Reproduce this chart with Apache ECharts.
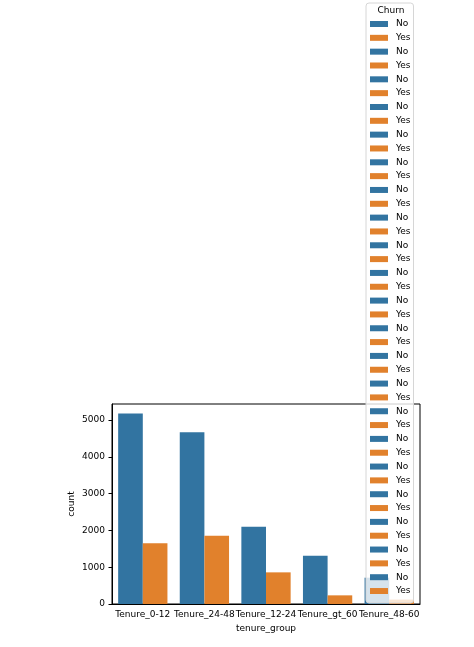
<!DOCTYPE html>
<html>
<head>
<meta charset="utf-8">
<script src="https://cdn.jsdelivr.net/npm/echarts@6/dist/echarts.min.js"></script>
<style>
  html, body { margin: 0; padding: 0; background: #fff; }
  #chart { width: 474px; height: 647px; }
</style>
</head>
<body>
<div id="chart"></div>
<script>
// categories and counts
var tenureGroups = ['Tenure_0-12', 'Tenure_24-48', 'Tenure_12-24', 'Tenure_gt_60', 'Tenure_48-60'];
var churnNo = [5180, 4665, 2100, 1310, 715];
var churnYes = [1650, 1855, 860, 235, 120];
var yTicks = [0, 1000, 2000, 3000, 4000, 5000];
var legendRepeats = 21;

var blue = '#3274a1';
var orange = '#e1812c';
var fontName = 'DejaVu Sans';
var fontSize = 9;

var chart = echarts.init(document.getElementById('chart'));

// the legend in the picture repeats No / Yes many times
var legendData = [];
var series = [
  { name: 'No', type: 'bar', data: churnNo, itemStyle: { color: blue }, barGap: 0, barCategoryGap: '20%' },
  { name: 'Yes', type: 'bar', data: churnYes, itemStyle: { color: orange }, barGap: 0, barCategoryGap: '20%' }
];
for (var k = 0; k < legendRepeats; k++) {
  var noName = k === 0 ? 'No' : 'No|' + k;
  var yesName = k === 0 ? 'Yes' : 'Yes|' + k;
  legendData.push({ name: noName, icon: 'rect' }, { name: yesName, icon: 'rect' });
  if (k > 0) {
    series.push({ name: noName, type: 'scatter', data: [], itemStyle: { color: blue, opacity: 1 } });
    series.push({ name: yesName, type: 'scatter', data: [], itemStyle: { color: orange, opacity: 1 } });
  }
}

var option = {
  animation: false,
  textStyle: { fontFamily: fontName },
  title: {
    text: 'Churn',
    left: 391,
    top: 5,
    textAlign: 'center',
    textStyle: { fontSize: fontSize, lineHeight: 11, fontWeight: 'normal', color: '#000', fontFamily: fontName },
    padding: 0,
    z: 20
  },
  legend: {
    orient: 'vertical',
    left: 366,
    top: 3,
    padding: [15, 3, 6, 4],
    itemWidth: 18,
    itemHeight: 6,
    itemGap: 1.83,
    data: legendData,
    formatter: function (name) { return name.split('|')[0]; },
    textStyle: { fontSize: fontSize, lineHeight: 12, color: '#000', fontFamily: fontName, padding: [0, 0, 0, 3] },
    backgroundColor: 'rgba(255,255,255,0.8)',
    borderColor: '#d6d6d6',
    borderWidth: 1,
    borderRadius: 3,
    selectedMode: false,
    z: 10
  },
  grid: {
    left: 112,
    right: 54,
    top: 404,
    bottom: 43,
    show: true,
    borderColor: '#000',
    borderWidth: 1,
    containLabel: false
  },
  xAxis: {
    type: 'category',
    data: tenureGroups,
    name: 'tenure_group',
    nameLocation: 'middle',
    nameGap: 20,
    nameTextStyle: { fontSize: fontSize, color: '#000', fontFamily: fontName },
    axisLine: { lineStyle: { color: '#000', width: 1 } },
    axisTick: { alignWithLabel: true, length: 3.5, lineStyle: { color: '#000' } },
    axisLabel: { fontSize: fontSize, color: '#000', margin: 6, interval: 0, fontFamily: fontName },
    splitLine: { show: false }
  },
  yAxis: {
    type: 'value',
    min: 0,
    max: 5435,
    interval: 1000,
    name: 'count',
    nameLocation: 'middle',
    nameGap: 36,
    nameMoveOverlap: false,
    nameTextStyle: { fontSize: fontSize, color: '#000', fontFamily: fontName },
    axisLine: { show: true, lineStyle: { color: '#000', width: 1 } },
    axisTick: { show: true, length: 3.5, lineStyle: { color: '#000' }, customValues: yTicks },
    axisLabel: {
      fontSize: fontSize, color: '#000', margin: 7, fontFamily: fontName, customValues: yTicks,
      formatter: function (v) { return String(v); }
    },
    splitLine: { show: false }
  },
  series: series
};

chart.setOption(option);
</script>
</body>
</html>
